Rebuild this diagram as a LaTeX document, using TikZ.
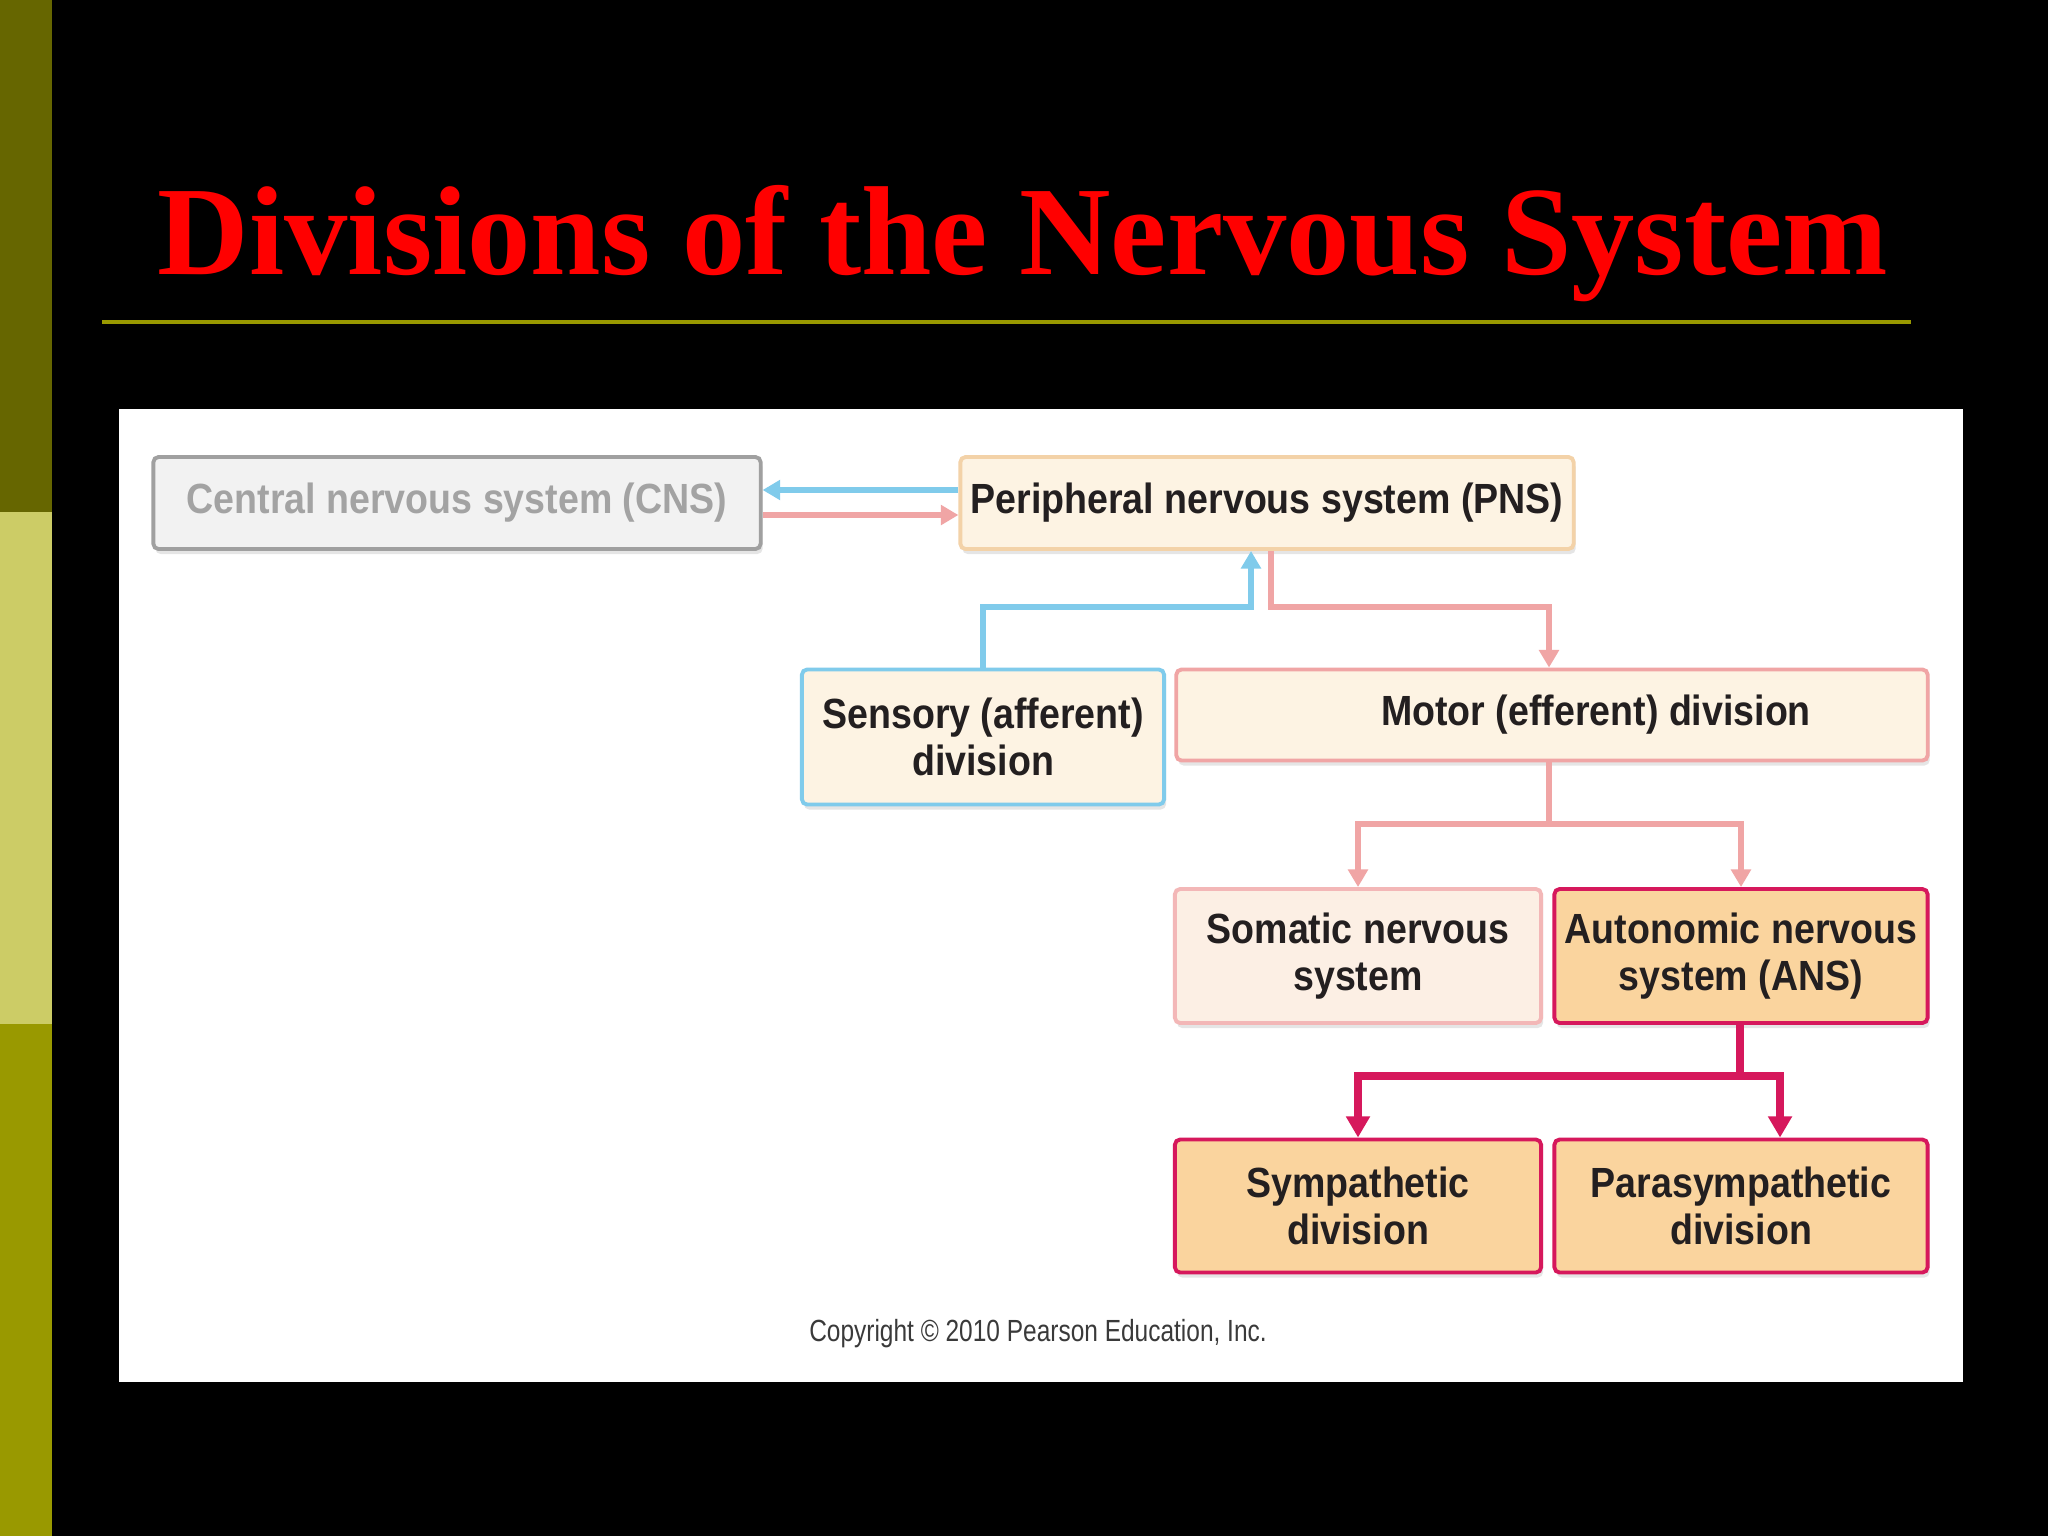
\documentclass[tikz,border=0pt]{standalone}
\usepackage{fontspec}
\setmainfont{Liberation Serif}
\newfontfamily\boxfont[FakeStretch=0.89]{Liberation Sans}
\newfontfamily\notefont[FakeStretch=0.8]{Liberation Sans}
\usetikzlibrary{arrows.meta, shadows}

\definecolor{bartop}{HTML}{666600}
\definecolor{barmid}{HTML}{CCCC66}
\definecolor{barlow}{HTML}{999900}
\definecolor{titlered}{HTML}{FF0000}
\definecolor{textdark}{HTML}{231F20}
\definecolor{cnsfill}{HTML}{F2F2F2}
\definecolor{cnsedge}{HTML}{A0A0A0}
\definecolor{cnstext}{HTML}{A3A3A3}
\definecolor{cream}{HTML}{FDF3E3}
\definecolor{creampink}{HTML}{FCEFE4}
\definecolor{tan}{HTML}{F3D2A8}
\definecolor{skyblue}{HTML}{80CBEB}
\definecolor{rose}{HTML}{F0A5A5}
\definecolor{crimson}{HTML}{D6185C}
\definecolor{apricot}{HTML}{FAD49E}
\definecolor{notegrey}{HTML}{3A3A3A}

\begin{document}
\begin{tikzpicture}[x=0.01cm, y=-0.01cm,
    divbox/.style={draw, line width=1.1pt, rounded corners=1.5pt, align=center,
        inner sep=0pt, text=textdark,
        font=\boxfont\bfseries\fontsize{12}{13.2}\selectfont,
        drop shadow={shadow xshift=0.02cm, shadow yshift=-0.05cm, opacity=0.2}},
    afferent/.style={skyblue, line width=1.8pt, -{Triangle[width=5.5pt, length=5pt]}},
    efferent/.style={rose, line width=1.8pt, -{Triangle[width=5.5pt, length=5pt]}},
    autonomic/.style={crimson, line width=2.5pt, -{Triangle[width=6.5pt, length=6pt]}}]

    % slide background
    \useasboundingbox (0,0) rectangle (2048,1536);
    \fill[black] (0,0) rectangle (2048,1536);
    \fill[bartop] (0,0) rectangle (52,512);
    \fill[barmid] (0,512) rectangle (52,1024);
    \fill[barlow] (0,1024) rectangle (52,1536);

    \node[anchor=base, text=titlered, font=\bfseries\fontsize{36}{36}\selectfont] (title) at (1023,274) {Divisions of the Nervous System};
    \draw[barlow, line width=1.15pt] (102,322) -- (1911,322);

    \fill[white] (119,409) rectangle (1963,1382);

    % boxes
    \node[divbox, fill=cnsfill, draw=cnsedge, text=cnstext, minimum width=6.07cm, minimum height=0.92cm] (cns) at (457,503) {Central nervous system (CNS)};
    \node[divbox, fill=cream, draw=tan, minimum width=6.13cm, minimum height=0.92cm] (pns) at (1267,503) {Peripheral nervous system (PNS)};
    \node[divbox, fill=cream, draw=skyblue, minimum width=3.62cm, minimum height=1.35cm] (sensory) at (983,737) {Sensory (afferent)\\division};
    \node[divbox, fill=cream, draw=rose, minimum width=7.51cm, minimum height=0.91cm] (motor) at (1552,715) {\hspace*{0.88cm}Motor (efferent) division};
    \node[divbox, fill=creampink, draw=rose!80, minimum width=3.66cm, minimum height=1.34cm] (somatic) at (1358,956) {Somatic nervous\\system};
    \node[divbox, fill=apricot, draw=crimson, minimum width=3.73cm, minimum height=1.34cm] (ans) at (1741,956) {Autonomic nervous\\system (ANS)};
    \node[divbox, fill=apricot, draw=crimson, minimum width=3.66cm, minimum height=1.33cm] (symp) at (1358,1206) {Sympathetic\\division};
    \node[divbox, fill=apricot, draw=crimson, minimum width=3.73cm, minimum height=1.33cm] (para) at (1741,1206) {Parasympathetic\\division};

    \node[anchor=base, text=notegrey, font=\notefont\fontsize{8.7}{10}\selectfont] (copy) at (1038,1341) {Copyright © 2010 Pearson Education, Inc.};

    % connectors
    \coordinate (sensjoin) at (1251,607);
    \coordinate (pnsjoin) at (1549,607);
    \coordinate (motorsplit) at (1549,824);
    \coordinate (anssplit) at (1740,1076);

    \draw[afferent] ([yshift=0.13cm]pns.west) -- ([yshift=0.13cm]cns.east);
    \draw[efferent] ([yshift=-0.12cm]cns.east) -- ([yshift=-0.12cm]pns.west);
    \draw[afferent] (sensory.north) |- (sensjoin) -- (sensjoin |- pns.south);
    \draw[efferent] ([xshift=0.04cm]pns.south) |- (pnsjoin) -- (pnsjoin |- motor.north);
    \draw[rose, line width=1.8pt] (motorsplit |- motor.south) -- (motorsplit);
    \draw[efferent] (motorsplit) -| (somatic.north);
    \draw[efferent] (motorsplit) -| (ans.north);
    \draw[crimson, line width=2.5pt] (anssplit |- ans.south) -- (anssplit);
    \draw[autonomic] (anssplit) -| (symp.north);
    \draw[autonomic] (anssplit) -| ([xshift=0.39cm]para.north);
\end{tikzpicture}
\end{document}
